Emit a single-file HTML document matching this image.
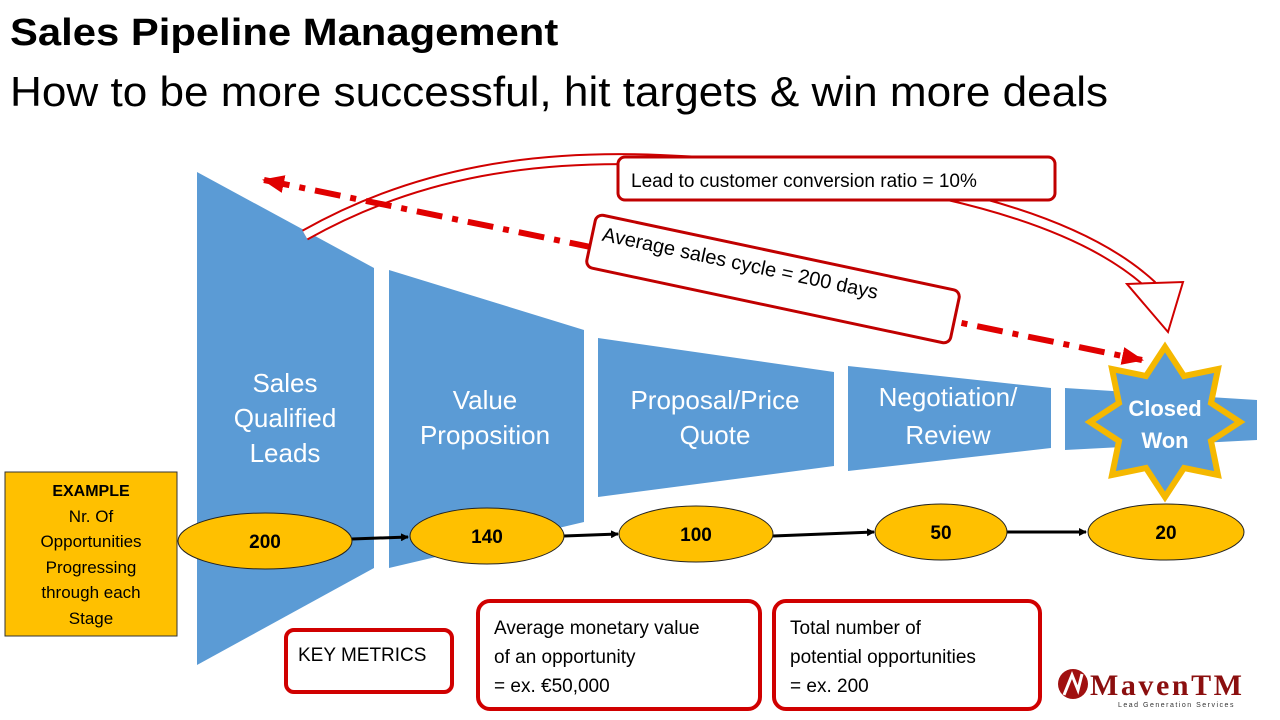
<!DOCTYPE html>
<html><head><meta charset="utf-8"><style>
body{margin:0;width:1280px;height:720px;background:#fff;overflow:hidden;font-family:"Liberation Sans",Calibri,sans-serif}
.t{position:absolute;color:#000;white-space:nowrap}
</style></head><body>
<div class="t" style="left:10px;top:12px;font-size:38px;font-weight:bold;transform:scaleX(1.1);transform-origin:0 0">Sales Pipeline Management</div>
<div class="t" style="left:10px;top:68px;font-size:42px;transform:scaleX(1.05);transform-origin:0 0">How to be more successful, hit targets &amp; win more deals</div>
<svg width="1280" height="720" style="position:absolute;left:0;top:0" font-family="Liberation Sans, sans-serif">
<defs>
<marker id="ah" markerWidth="8" markerHeight="8" refX="7" refY="4" orient="auto" markerUnits="userSpaceOnUse"><path d="M0,0 L8,4 L0,8z" fill="#000"/></marker>
<marker id="rh" markerWidth="22" markerHeight="18" refX="20" refY="9" orient="auto" markerUnits="userSpaceOnUse"><path d="M0,0 L22,9 L0,18z" fill="#e00000"/></marker>
<marker id="rt" markerWidth="22" markerHeight="18" refX="2" refY="9" orient="auto" markerUnits="userSpaceOnUse"><path d="M22,0 L0,9 L22,18z" fill="#e00000"/></marker>
</defs>
<g fill="#5b9bd5">
<polygon points="197,172 374,268 374,568 197,665"/>
<polygon points="389,270 584,330 584,522 389,568"/>
<polygon points="598,338 834,372 834,466 598,497"/>
<polygon points="848,366 1051,388 1051,448 848,471"/>
<polygon points="1065,388 1257,400 1257,440 1065,450"/>
</g>
<polygon points="1165,347 1184,376 1218,369 1211,403 1240,422 1211,441 1218,475 1184,468 1165,497 1146,468 1112,475 1119,441 1090,422 1119,403 1112,369 1146,376" fill="#5b9bd5" stroke="#f5b800" stroke-width="6"/>
<g fill="#fff" font-size="26" text-anchor="middle">
<text x="285" y="392">Sales</text><text x="285" y="427">Qualified</text><text x="285" y="462">Leads</text>
<text x="485" y="409">Value</text><text x="485" y="444">Proposition</text>
<text x="715" y="409">Proposal/Price</text><text x="715" y="444">Quote</text>
<text x="948" y="406">Negotiation/</text><text x="948" y="444">Review</text>
<text x="1165" y="416" font-weight="bold" font-size="22">Closed</text><text x="1165" y="448" font-weight="bold" font-size="22">Won</text>
</g>
<g stroke="#000" stroke-width="3" marker-end="url(#ah)">
<line x1="352" y1="539" x2="408" y2="537"/>
<line x1="564" y1="536" x2="618" y2="534"/>
<line x1="773" y1="536" x2="874" y2="532"/>
<line x1="1007" y1="532" x2="1086" y2="532"/>
</g>
<g fill="#ffc000" stroke="#222" stroke-width="1">
<ellipse cx="265" cy="541" rx="87" ry="28"/><ellipse cx="487" cy="536" rx="77" ry="28"/><ellipse cx="696" cy="534" rx="77" ry="28"/><ellipse cx="941" cy="532" rx="66" ry="28"/><ellipse cx="1166" cy="532" rx="78" ry="28"/>
</g>
<g font-size="19" font-weight="bold" text-anchor="middle">
<text x="265" y="548">200</text><text x="487" y="543">140</text><text x="696" y="541">100</text><text x="941" y="539">50</text><text x="1166" y="539">20</text>
</g>
<rect x="5" y="472" width="172" height="164" fill="#ffc000" stroke="#333" stroke-width="1"/>
<g font-size="17" text-anchor="middle"><text x="91" y="496" font-weight="bold" font-size="16">EXAMPLE</text><text x="91" y="522">Nr. Of</text><text x="91" y="547">Opportunities</text><text x="91" y="573">Progressing</text><text x="91" y="598">through each</text><text x="91" y="624">Stage</text></g>
<!-- curved hollow arrow -->
<path d="M305,235 C420,170 540,155 660,160 C850,168 1060,200 1152,286" fill="none" stroke="#d00000" stroke-width="12"/>
<path d="M305,235 C420,170 540,155 660,160 C850,168 1060,200 1152,286" fill="none" stroke="#fff" stroke-width="8"/>
<polygon points="1127,284 1183,282 1168,332" fill="#fff" stroke="#d00000" stroke-width="2"/>
<line x1="264" y1="180" x2="1142" y2="360" stroke="#e00000" stroke-width="6" stroke-dasharray="26,10,6,10" marker-end="url(#rh)" marker-start="url(#rt)"/>
<rect x="618" y="157" width="437" height="43" rx="7" fill="#fff" stroke="#c00000" stroke-width="3"/>
<text x="631" y="187" font-size="19">Lead to customer conversion ratio = 10%</text>
<g transform="translate(773,279) rotate(12)">
<rect x="-186" y="-27" width="372" height="54" rx="7" fill="#fff" stroke="#c00000" stroke-width="3"/>
<text x="-176" y="-2" font-size="20">Average sales cycle = 200 days</text>
</g>
<g fill="#fff" stroke="#d00000" stroke-width="4">
<rect x="286" y="630" width="166" height="62" rx="8"/><rect x="478" y="601" width="282" height="108" rx="12"/><rect x="774" y="601" width="266" height="108" rx="12"/>
</g>
<g font-size="19"><text x="298" y="661">KEY METRICS</text>
<text x="494" y="634">Average monetary value</text><text x="494" y="663">of an opportunity</text><text x="494" y="692">= ex. €50,000</text>
<text x="790" y="634">Total number of</text><text x="790" y="663">potential opportunities</text><text x="790" y="692">= ex. 200</text></g>
<circle cx="1073" cy="684" r="15" fill="#a01010"/><path d="M1064,695 L1072,675 L1078,690 L1082,674" stroke="#fff" stroke-width="3" fill="none"/>
<text x="1090" y="695" font-size="30" font-weight="bold" fill="#8b0f0f" font-family="Liberation Serif, serif" textLength="152">MavenTM</text>
<text x="1118" y="707" font-size="7" fill="#333" letter-spacing="1.5">Lead Generation Services</text>
</svg>
</body></html>
